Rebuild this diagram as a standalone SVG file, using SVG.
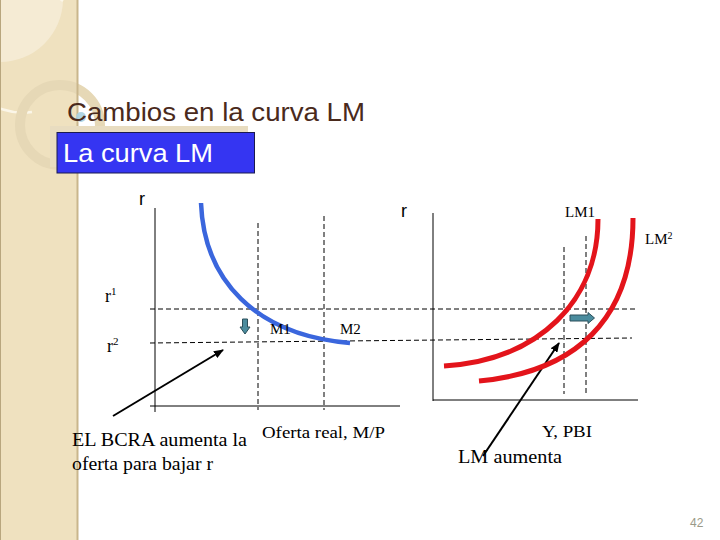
<svg xmlns="http://www.w3.org/2000/svg" width="720" height="540" viewBox="0 0 720 540">
<defs>
<style>
.sans{font-family:"Liberation Sans",Arial,sans-serif}
.serif{font-family:"Liberation Serif","Times New Roman",serif;fill:#000}
.axis{stroke:#000;stroke-width:1;fill:none}
.dash{stroke:#000;stroke-width:1;stroke-dasharray:5,3;fill:none}
.ptr{stroke:#000;stroke-width:2;fill:none;marker-end:url(#ah)}
.blk{fill:#4a8c9e;stroke:#2b4f5a;stroke-width:1}
</style>
<marker id="ah" markerWidth="10" markerHeight="8" refX="9" refY="4" orient="auto" markerUnits="userSpaceOnUse">
<path d="M0,0 L10,4 L0,8 Z" fill="#000"/>
</marker>
</defs>
<rect width="720" height="540" fill="#fff"/>
<g id="background">
<rect x="0" y="0" width="78" height="540" fill="#efe1bf"/>
<path d="M0,0 L63,0 A63,63 0 0 1 0,62 Z" fill="#f5ebd4"/>
<path d="M63,1 A63,63 0 1 0 32,112" fill="none" stroke="#fbf6e8" stroke-width="2.5"/>
<circle cx="60" cy="125" r="40" fill="none" stroke="#e6d8b6" stroke-width="10"/>
<line x1="77.5" y1="0" x2="77.5" y2="540" stroke="#c9b68c" stroke-width="2"/>
<line x1="0.5" y1="0" x2="0.5" y2="540" stroke="#b8a67e" stroke-width="1"/>
<circle cx="81" cy="117" r="5" fill="#a9d2e2" opacity="0.9"/>
</g>
<g id="title">
<text x="67" y="121" class="sans" font-size="25" fill="#4a2a1c" textLength="298" lengthAdjust="spacingAndGlyphs">Cambios en la curva LM</text>
</g>
<g id="header">
<rect x="50" y="126" width="198" height="41" fill="#e8dcc0"/>
<rect x="57" y="132.5" width="197.5" height="40.5" fill="#3535f2" stroke="#1a1a50" stroke-width="1"/>
<text x="63" y="162" class="sans" font-size="26" fill="#fff" textLength="150" lengthAdjust="spacingAndGlyphs">La curva LM</text>
</g>
<g id="connectors">
<line class="axis" x1="155" y1="208" x2="155" y2="412"/>
<line class="axis" x1="150" y1="406" x2="400" y2="406"/>
<line class="axis" x1="433" y1="213" x2="433" y2="401"/>
<line class="axis" x1="433" y1="400" x2="638" y2="400"/>
<line class="dash" x1="150" y1="309" x2="638" y2="309"/>
<line class="dash" x1="150" y1="343" x2="632" y2="338"/>
<line class="dash" x1="258" y1="223" x2="258" y2="410"/>
<line class="dash" x1="324" y1="216" x2="324" y2="410"/>
<line class="dash" x1="564" y1="247" x2="564" y2="394"/>
<line class="dash" x1="586" y1="236" x2="586" y2="394"/>
<line class="ptr" x1="113" y1="416" x2="223" y2="350"/>
<line class="ptr" x1="483" y1="456" x2="559" y2="343"/>
</g>
<g id="curve-md">
<path d="M201,203 C204,280 255,335 350,343" fill="none" stroke="#3a66dd" stroke-width="4.5"/>
</g>
<g id="curve-lm1">
<path d="M444,366 C540,360 598,300 598,219" fill="none" stroke="#e3141b" stroke-width="5"/>
</g>
<g id="curve-lm2">
<path d="M479,381 C575,372 633,320 633,218" fill="none" stroke="#e3141b" stroke-width="5"/>
</g>
<g id="arrow-down">
<path class="blk" d="M242.5,319 H247.5 V327 H250 L245,334 L240,327 H242.5 Z"/>
</g>
<g id="arrow-right">
<path class="blk" d="M570,315 H588 V312.5 L594.5,318 L588,323.5 V321 H570 Z"/>
</g>
<g id="labels">
<text x="139" y="205" class="sans" font-size="18" fill="#000">r</text>
<text x="401" y="217" class="sans" font-size="18" fill="#000">r</text>
<text x="105" y="302" class="serif" font-size="18">r<tspan font-size="11" dy="-7">1</tspan></text>
<text x="107" y="352" class="serif" font-size="18">r<tspan font-size="11" dy="-7">2</tspan></text>
<text x="270" y="334" class="serif" font-size="15">M1</text>
<text x="340" y="334" class="serif" font-size="15">M2</text>
<text x="565" y="217" class="serif" font-size="15">LM1</text>
<text x="645" y="244" class="serif" font-size="15">LM<tspan font-size="10" dy="-5">2</tspan></text>
<text x="72" y="446" class="serif" font-size="19" textLength="175" lengthAdjust="spacingAndGlyphs">EL BCRA aumenta la</text>
<text x="72" y="470" class="serif" font-size="19" textLength="141" lengthAdjust="spacingAndGlyphs">oferta para bajar r</text>
<text x="262" y="438" class="serif" font-size="16" textLength="123" lengthAdjust="spacingAndGlyphs">Oferta real, M/P</text>
<text x="542" y="437" class="serif" font-size="17" textLength="50" lengthAdjust="spacingAndGlyphs">Y, PBI</text>
<text x="458" y="463" class="serif" font-size="18" textLength="104" lengthAdjust="spacingAndGlyphs">LM aumenta</text>
<text x="690" y="527" class="sans" font-size="12" fill="#9a9a88">42</text>
</g>
</svg>
